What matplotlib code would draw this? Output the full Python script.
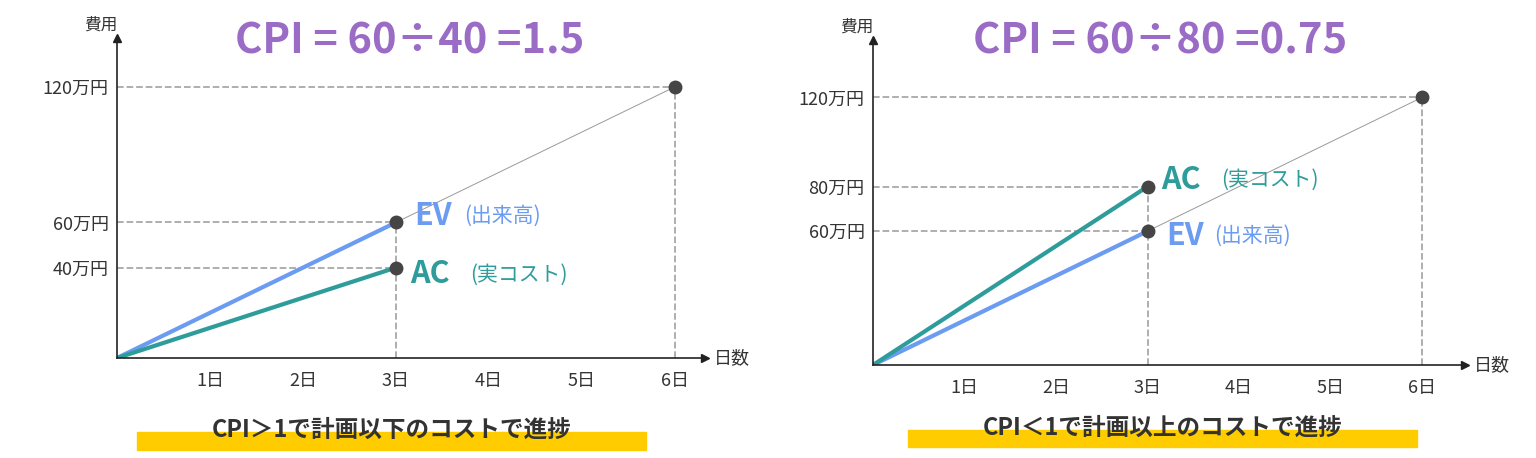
import matplotlib
matplotlib.use("Agg")
import matplotlib.pyplot as plt
from matplotlib.patches import Rectangle

plt.rcParams['font.family'] = ['Noto Sans CJK JP', 'DejaVu Sans']

days = [1, 2, 3, 4, 5, 6]
day_labels = ["1日", "2日", "3日", "4日", "5日", "6日"]
pv_end = (6, 120)
left_ev = 60; left_ac = 40
right_ev = 60; right_ac = 80
titles = ["CPI = 60÷40 =1.5", "CPI = 60÷80 =0.75"]
notes = ["CPI＞1で計画以下のコストで進捗", "CPI＜1で計画以上のコストで進捗"]

W, H = 1536, 458
fig = plt.figure(figsize=(W/100, H/100), dpi=100)
BLUE = "#6b9cf2"; TEAL = "#2f9c9c"; DOT = "#454545"; GRID = "#a8a8a8"; PURPLE = "#9a6cc6"

def panel(px0, py0, pxw, pyh, dayw, ypx, ev, ac, title, tx, note, nbox, ev_upper):
    ax = fig.add_axes([px0/W, (H-py0)/H, pxw/W, pyh/H])
    xmax = pxw/dayw; ymax = pyh/ypx
    ax.set_xlim(0, xmax); ax.set_ylim(0, ymax)
    for s in ["top", "right"]:
        ax.spines[s].set_visible(False)
    for s in ["left", "bottom"]:
        ax.spines[s].set_color("#222"); ax.spines[s].set_linewidth(1.2)
    ax.plot(xmax, 0, ">", color="#222", ms=6, clip_on=False)
    ax.plot(0, ymax, "^", color="#222", ms=6, clip_on=False)
    ax.set_xticks(days); ax.set_xticklabels(day_labels, fontsize=13, color="#333")
    ax.tick_params(axis="x", length=0, pad=10)
    yt = sorted({ev, ac, 120})
    ax.set_yticks(yt); ax.set_yticklabels([f"{v}万円" for v in yt], fontsize=13, color="#333")
    ax.tick_params(axis="y", length=0, pad=6)
    ax.text(xmax + 0.1, 0, "日数", fontsize=13, va="center", ha="left", color="#333")
    ax.text(0, ymax + 2, "費用", fontsize=12, va="bottom", ha="right", color="#333")
    for v in yt:
        xe = 6 if v == 120 else 3
        ax.plot([0, xe], [v, v], "--", color=GRID, lw=1.3)
    ax.plot([3, 3], [0, max(ev, ac)], "--", color=GRID, lw=1.3)
    ax.plot([6, 6], [0, 120], "--", color=GRID, lw=1.3)
    ax.plot([0, pv_end[0]], [0, pv_end[1]], color="#999", lw=0.7)
    ax.plot([0, 3], [0, ev], color=BLUE, lw=3, solid_capstyle="round")
    ax.plot([0, 3], [0, ac], color=TEAL, lw=3, solid_capstyle="round")
    for v in (ev, ac):
        ax.plot(3, v, "o", color=DOT, ms=9, clip_on=False)
    ax.plot(6, 120, "o", color=DOT, ms=9, clip_on=False)
    off_ev = 3 if ev_upper else -2
    off_ac = 3 if not ev_upper else -3
    ax.text(3.2, ev + off_ev, "EV", fontsize=22, color=BLUE, va="center", fontweight="bold")
    ax.text(3.73, ev + off_ev, "(出来高)", fontsize=15, color=BLUE, va="center")
    ax.text(3.15, ac + off_ac, "AC", fontsize=22, color=TEAL, va="center", fontweight="bold")
    ax.text(3.8, ac + off_ac, "(実コスト)", fontsize=15, color=TEAL, va="center")
    fig.text(tx/W, 1 - 42/H, title, fontsize=30, color=PURPLE, ha="center", va="center", fontweight="bold")
    bx0, by0, bx1, by1 = nbox
    fig.patches.append(Rectangle((bx0/W, 1 - by1/H), (bx1-bx0)/W, (by1-by0)/H,
                                 transform=fig.transFigure, color="#ffcc00", zorder=0))
    fig.text((bx0+bx1)/2/W, 1 - (by0 - 2)/H, note, fontsize=17, color="#333", ha="center", va="center", fontweight="bold")

panel(117, 358, 588, 320, 93, 2.26, left_ev, left_ac, titles[0], 410, notes[0], (137, 432, 646, 450), True)
panel(873, 365, 592, 325, 91.5, 2.23, right_ev, right_ac, titles[1], 1160, notes[1], (908, 430, 1417, 447), False)

fig.savefig("out.png", dpi=100, facecolor="white")
